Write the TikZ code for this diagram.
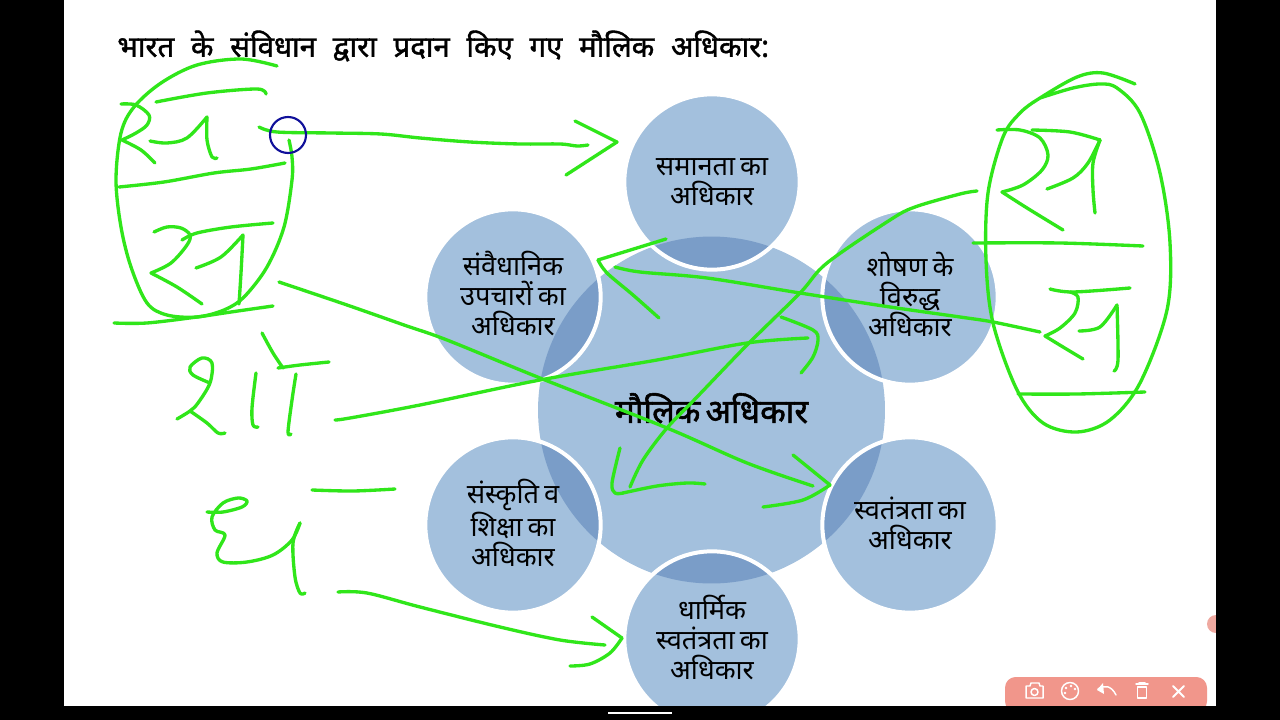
\documentclass[tikz,border=0pt]{standalone}
\usepackage{fontspec}
\newfontfamily\hin[Script=Devanagari,WordSpace=0.7]{Noto Sans}
\newfontfamily\hinbold[Script=Devanagari,WordSpace=0.6,FakeBold=1.6]{Noto Sans}
\newfontfamily\hintitle[Script=Devanagari,WordSpace=2.2,FakeBold=1.4]{Noto Sans}
\definecolor{satblue}{HTML}{A3C0DD}
\definecolor{lensblue}{HTML}{7A9DC8}
\definecolor{inkgreen}{HTML}{30E61A}
\definecolor{barsalmon}{HTML}{F1968B}
\definecolor{dotsalmon}{HTML}{EFA9A0}
\definecolor{penblue}{HTML}{10109A}
\newcommand{\inkstroke}[1]{\draw[ink] plot[smooth,tension=0.55] coordinates {#1};}
\newcommand{\liftby}[1]{\\[#1]\mbox{}}
\tikzset{
  ink/.style={draw=inkgreen,line width=2.5pt,line cap=round,line join=round},
  sat/.style={circle,fill=satblue,draw=white,line width=3pt,minimum size=131.5pt,inner sep=0pt,outer sep=0pt,align=center,text=black,font=\hin\fontsize{20.4}{22.5}\selectfont,
    path picture={\fill[lensblue] (ctr.center) circle (130.1pt);}},
  hub/.style={circle,fill=satblue,minimum size=260.2pt,inner sep=0pt,outer sep=0pt,align=center,font=\hinbold\fontsize{25}{27}\selectfont},
  toolicon/.style={draw=white,line width=1.1pt,line join=round,line cap=round}
}
\begin{document}
\begin{tikzpicture}[x=0.75pt,y=-0.75pt]
\useasboundingbox (0,0) rectangle (1280,720);
\fill[white] (64,0) rectangle (1216,706);
% title
\node[anchor=west,inner sep=0pt,font=\hintitle\fontsize{22}{24}\selectfont] (title) at (117,46) {भारत के संविधान द्वारा प्रदान किए गए मौलिक अधिकार:};
% diagram
\node[hub] (ctr) at (711.5,410) {मौलिक अधिकार\liftby{-24pt}};
\node[sat] (top) at (712,182) {समानता का\\अधिकार};
\node[sat] (ur) at (910,297) {शोषण के\\विरुद्ध\\अधिकार\liftby{-18pt}};
\node[sat] (lr) at (910,525) {स्वतंत्रता का\\अधिकार\liftby{-20pt}};
\node[sat] (bot) at (712,639) {धार्मिक\\स्वतंत्रता का\\अधिकार\liftby{-19.5pt}};
\node[sat] (ll) at (513,525) {संस्कृति व\\शिक्षा का\\अधिकार\liftby{-19.5pt}};
\node[sat] (ul) at (513,297) {संवैधानिक\\उपचारों का\\अधिकार\liftby{-16.5pt}};
% left ink group
\inkstroke{(277,66)(241,59)(197,65)(161,83)(134,107)(121,133)(116,180)(121,227)(131,267)(147,303)(167,315)(197,317)(224,310)(244,297)(267,267)(284,227)(292,180)(292,157)(289,140)}
\inkstroke{(156,102)(207,93)(257,89)(266,94)}
\inkstroke{(121,104)(136,105)(149,115)(147,125)(136,133)(122,140)}
\inkstroke{(122,140)(141,150)(155,163)}
\inkstroke{(150,141)(167,143)(187,138)(207,117)}
\inkstroke{(207,117)(207,140)(212,157)(217,158)}
\inkstroke{(119,187)(164,182)(214,173)(251,169)(285,163)}
\inkstroke{(154,232)(167,227)(181,228)(190,235)(187,245)(171,263)(151,273)}
\inkstroke{(151,273)(177,287)(202,304)}
\inkstroke{(182,240)(197,233)(231,227)(273,223)}
\inkstroke{(196,268)(221,257)(243,235)}
\inkstroke{(243,235)(241,273)(239,304)}
\inkstroke{(114,323)(147,323)(197,317)(231,312)(273,306)}
% arrow to top
\inkstroke{(259,127)(277,132)(331,133)(381,134)(420,138)(470,142)(520,144)(560,144)(577,146)(588,145)}
\inkstroke{(575,121)(617,142)}
\inkstroke{(617,142)(566,175)}
% arrow to lower right
\inkstroke{(279,282)(347,305)(404,325)(447,340)(540,378)(667,428)(747,463)(813,486)}
\inkstroke{(793,455)(830,485)}
\inkstroke{(830,485)(803,500)(763,507)}
% long arrow to lower left
\inkstroke{(977,191)(960,194)(915,207)(890,220)(827,263)(800,293)(747,345)(697,397)(667,428)(643,460)(630,487)}
\inkstroke{(620,448)(612,483)(615,493)(623,493)}
\inkstroke{(623,493)(657,486)(687,483)(705,484)}
% arrow to upper left
\inkstroke{(1040,332)(993,322)(960,317)(890,307)(800,293)(707,278)(640,272)(615,267)}
\inkstroke{(666,239)(598,260)}
\inkstroke{(598,260)(607,273)(633,295)(659,318)}
% arrow to upper right
\inkstroke{(335,420)(350,418)(420,405)(540,380)(657,360)(747,343)(808,338)}
\inkstroke{(781,317)(813,330)(818,340)(813,357)(801,373)}
% sho
\inkstroke{(210,383)(193,375)(190,367)(202,358)(212,363)(210,383)(198,403)(190,411)(177,419)}
\inkstroke{(190,411)(207,423)(218,433)(225,433)}
\inkstroke{(256,373)(252,408)(253,425)(258,427)}
\inkstroke{(262,333)(273,353)(283,368)}
\inkstroke{(278,368)(300,365)(329,362)}
\inkstroke{(296,374)(292,400)(288,432)(291,434)}
% dha
\inkstroke{(312,490)(353,491)(395,489)}
\inkstroke{(207,512)(223,512)(242,507)(247,501)(238,498)(223,503)(212,517)(215,530)(225,535)(217,553)(223,562)(247,562)(273,555)(292,540)(300,523)}
\inkstroke{(300,523)(293,543)(295,577)(300,593)(305,593)}
% arrow to bottom
\inkstroke{(338,592)(367,593)(420,607)(500,627)(560,640)(605,645)}
\inkstroke{(592,617)(622,638)}
\inkstroke{(622,638)(610,653)(590,664)(570,666)}
% right ink group
\inkstroke{(1135,84)(1103,73)(1077,77)(1040,98)(1020,113)(1003,137)(988,193)(986,260)(993,323)(1017,390)(1043,423)(1077,432)(1110,420)(1140,383)(1167,310)(1170,243)(1160,173)(1140,113)(1117,88)(1100,84)(1073,88)(1040,98)}
\inkstroke{(997,130)(1020,130)(1040,138)(1048,155)(1042,170)(1023,185)(1002,192)}
\inkstroke{(1002,192)(1027,208)(1063,230)}
\inkstroke{(1032,130)(1070,132)(1100,140)}
\inkstroke{(1047,189)(1073,178)(1088,163)(1100,140)}
\inkstroke{(1100,140)(1093,163)(1093,190)(1095,213)}
\inkstroke{(973,243)(1060,243)(1143,246)}
\inkstroke{(1050,289)(1073,292)(1130,288)}
\inkstroke{(1070,292)(1078,297)(1075,313)(1060,328)(1045,336)}
\inkstroke{(1045,336)(1063,347)(1083,359)}
\inkstroke{(1079,331)(1100,327)(1117,305)}
\inkstroke{(1117,305)(1118,360)(1114,371)}
\inkstroke{(1018,394)(1077,394)(1145,392)}
% pen cursor
\node[circle,draw=penblue,line width=1.6pt,minimum size=27pt,inner sep=0pt] (pen) at (288,135) {};
% edge dot and frame
\fill[dotsalmon] (1216,624) circle (9);
\fill[barsalmon,rounded corners=8pt] (1005,677) rectangle (1207,712);
\fill[black] (0,0) rectangle (64,720);
\fill[black] (1216,0) rectangle (1280,720);
\fill[black] (0,706) rectangle (1280,720);
\draw[white,line width=1.5pt] (608,713) -- (672,713);
% toolbar icons
\draw[toolicon] (1026,686) -- (1030,686) -- (1031,683) -- (1039,683) -- (1040,686) -- (1043,686) -- (1043,698) -- (1026,698) -- cycle;
\draw[toolicon] (1034.5,692) circle (3.5);
\draw[toolicon] (1070,691) circle (8.5);
\fill[white] (1066,688) circle (1.4) (1071,686) circle (1.4) (1075,689) circle (1.4) (1065,693) circle (1.4);
\draw[toolicon] (1098,689) .. controls (1104,685) and (1111,685) .. (1116,695);
\fill[white] (1097,690) -- (1103,683) -- (1104,694) -- cycle;
\draw[toolicon] (1136,684) -- (1148,684) (1139,682.5) -- (1145,682.5);
\draw[toolicon] (1137.5,687) rectangle (1146.5,698);
\draw[toolicon,line width=1.4pt] (1173,686) -- (1184,697) (1184,686) -- (1173,697);
\end{tikzpicture}
\end{document}
